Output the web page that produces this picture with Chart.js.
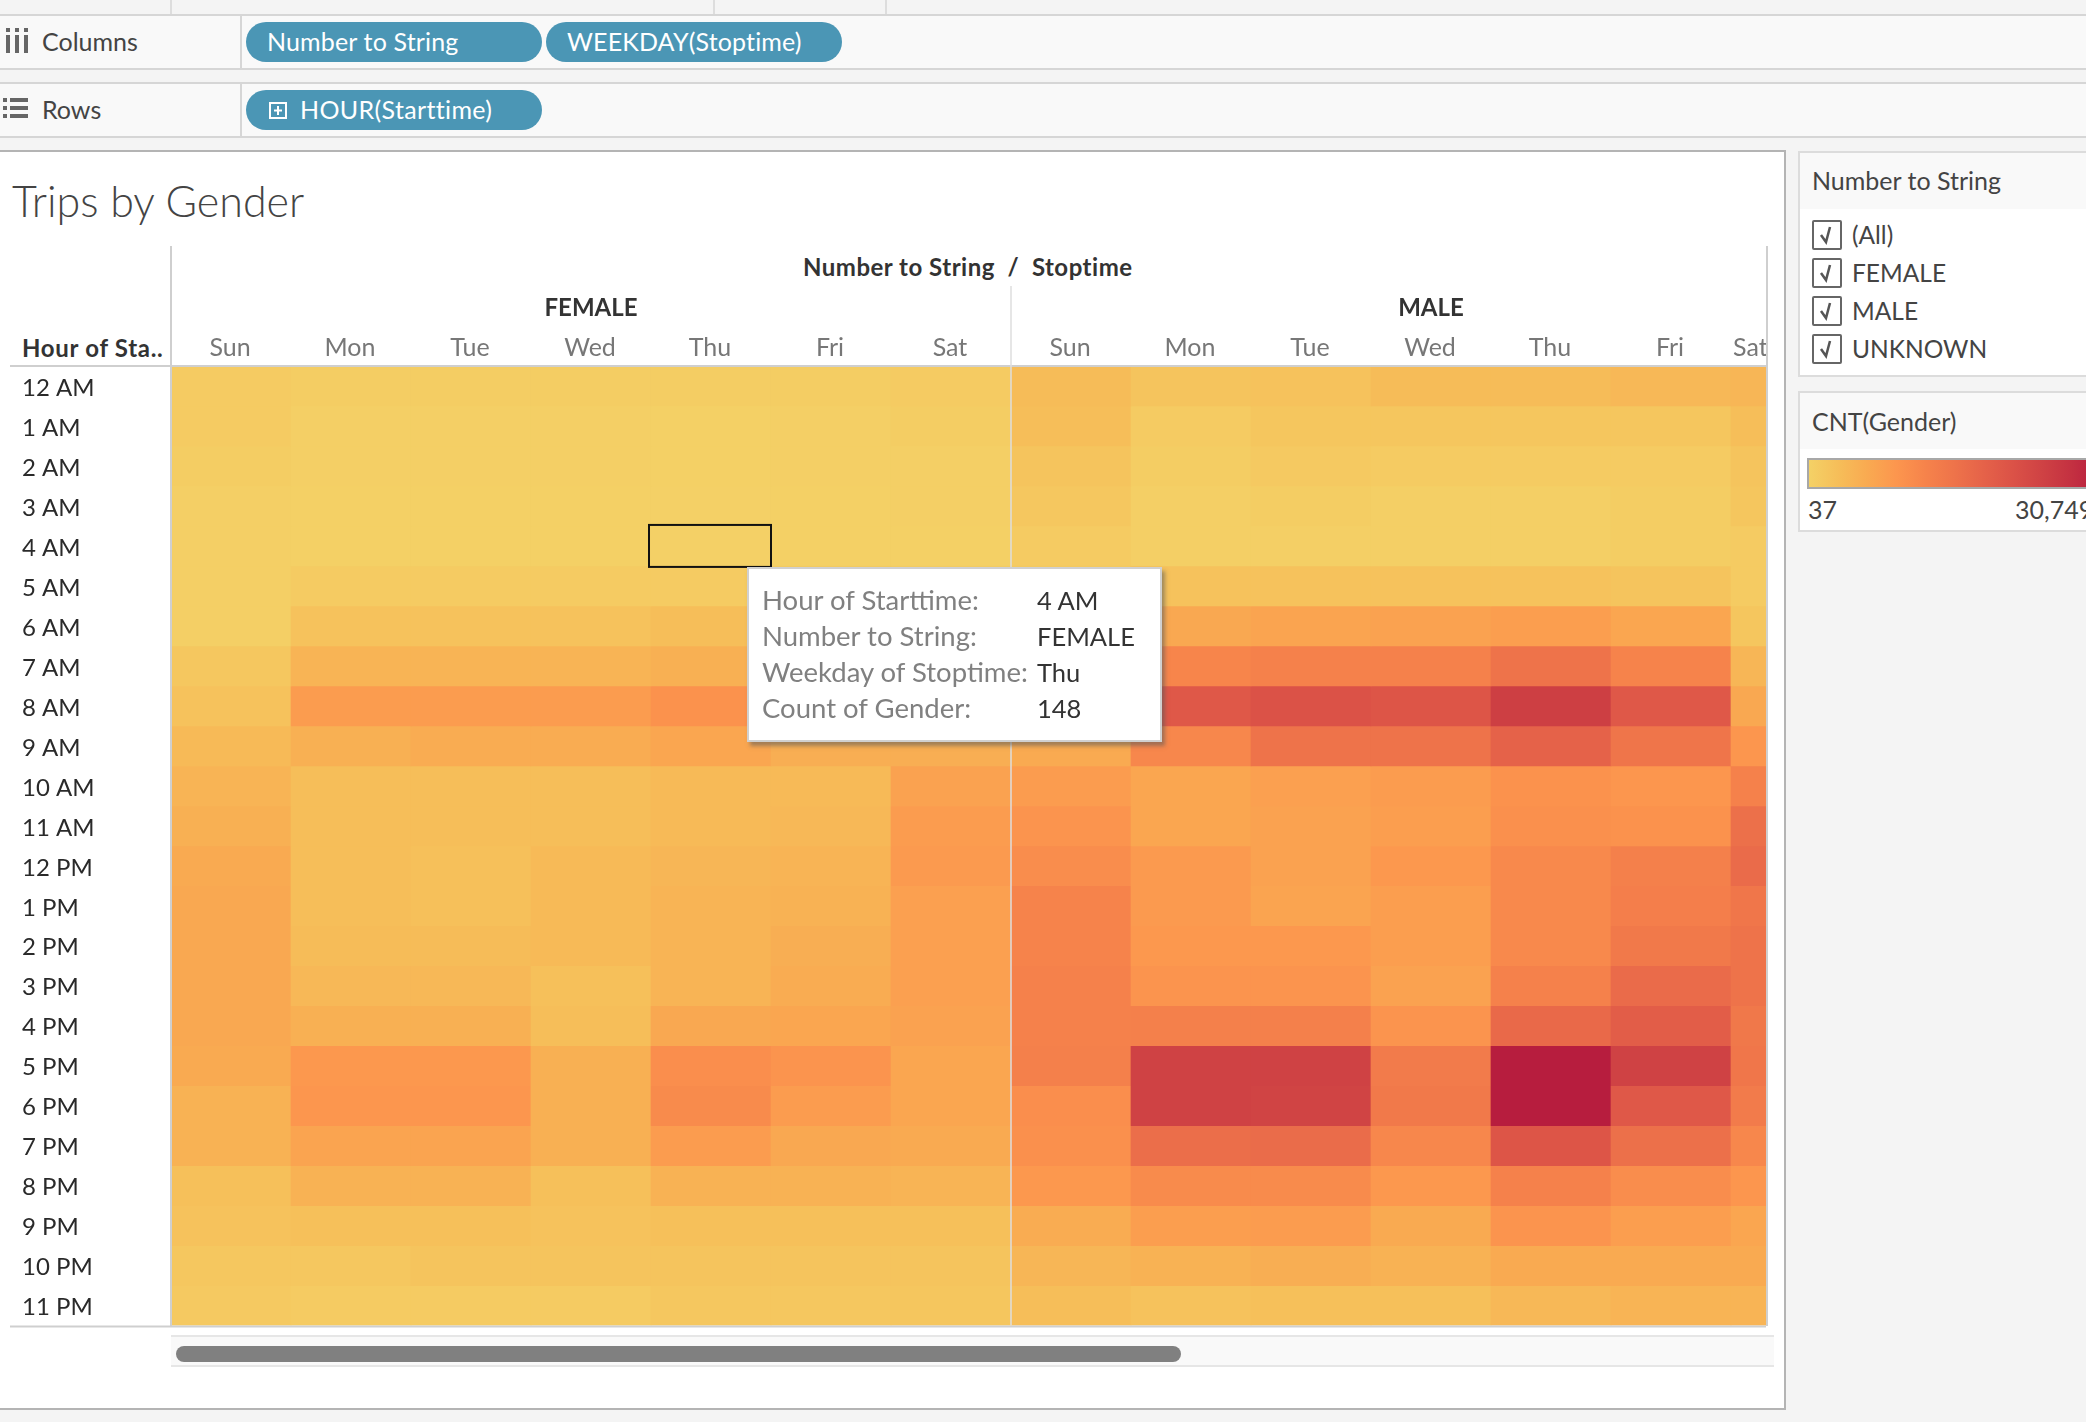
<!DOCTYPE html>
<html>
<head>
<meta charset="utf-8">
<title>Trips by Gender</title>
<script src="https://cdn.jsdelivr.net/npm/chart.js@4"></script>
<style>
html, body { margin: 0; padding: 0; background: #f4f4f4; }
body { width: 2086px; height: 1422px; position: relative; overflow: hidden; font-family: Lato, sans-serif; color: #444; }
.box { position: absolute; box-sizing: border-box; }
.txt { position: absolute; white-space: nowrap; line-height: 40px; height: 40px; }
.pill { position: absolute; height: 40px; width: 296px; background: #4b96b5; border-radius: 20px; color: #fff; font-size: 25px; letter-spacing: .15px; line-height: 38px; box-sizing: border-box; padding-left: 21px; }
.check { position: absolute; left: 1812px; width: 30px; height: 30px; box-sizing: border-box; border: 2px solid #666; border-radius: 2px; background: #fff; }
.check svg { display: block; }
.shelf { position: absolute; left: 0; width: 2086px; background: #f9f9f9; border-top: 2px solid #d6d6d6; border-bottom: 2px solid #d6d6d6; box-sizing: border-box; }
</style>
</head>
<body>
<!-- toolbar shelves -->
<div class="box" style="left:170px;top:0;width:2px;height:14px;background:#ddd"></div>
<div class="box" style="left:713px;top:0;width:2px;height:14px;background:#ddd"></div>
<div class="box" style="left:885px;top:0;width:2px;height:14px;background:#ddd"></div>
<div class="shelf" style="top:14px;height:56px"></div>
<div class="shelf" style="top:82px;height:56px"></div>
<div class="box" style="left:240px;top:15px;width:2px;height:54px;background:#d6d6d6"></div>
<div class="box" style="left:240px;top:83px;width:2px;height:54px;background:#d6d6d6"></div>
<svg class="box" style="left:5px;top:28px" width="24" height="26" fill="#666"><rect x="1" y="0" width="4" height="4"/><rect x="10" y="0" width="4" height="4"/><rect x="19" y="0" width="4" height="4"/><rect x="1" y="7" width="4" height="18"/><rect x="10" y="7" width="4" height="18"/><rect x="19" y="7" width="4" height="18"/></svg>
<svg class="box" style="left:3px;top:98px" width="26" height="20" fill="#666"><rect x="0" y="0" width="4" height="4"/><rect x="7" y="0" width="18" height="4"/><rect x="0" y="8" width="4" height="4"/><rect x="7" y="8" width="18" height="4"/><rect x="0" y="16" width="4" height="4"/><rect x="7" y="16" width="18" height="4"/></svg>
<div class="txt" style="left:42px;top:21px;font-size:25px">Columns</div>
<div class="txt" style="left:42px;top:89px;font-size:25px">Rows</div>
<div class="pill" style="left:246px;top:22px">Number to String</div>
<div class="pill" style="left:546px;top:22px">WEEKDAY(Stoptime)</div>
<div class="pill" style="left:246px;top:90px;padding-left:54px;letter-spacing:.35px">HOUR(Starttime)</div>
<svg class="box" style="left:269px;top:102px" width="19" height="17" fill="none" stroke="#fff" stroke-width="2"><rect x="1" y="1" width="16" height="15"/><path d="M9 4v9M5 8.500h8"/></svg>

<!-- main panel -->
<div class="box" style="left:-2px;top:150px;width:1788px;height:1260px;background:#fff;border:2px solid #b4b4b4"></div>
<div class="txt" id="chartTitle" style="left:12px;top:181px;font-size:43px;color:#444;font-weight:300">Trips by Gender</div>
<div class="txt" style="left:803px;top:247px;font-size:24px;font-weight:700;letter-spacing:.5px;color:#333">Number to String&nbsp; /&nbsp; Stoptime</div>
<div class="txt" style="left:22px;top:328px;font-size:24px;font-weight:700;letter-spacing:.7px;color:#333">Hour of Sta..</div>
<div class="box" style="left:1766px;top:246px;width:2px;height:1080px;background:#cfcfcf"></div>

<div class="box" id="plotClip" style="left:0;top:0;width:1766px;height:1340px;overflow:hidden">
  <canvas id="heatmap" width="1851" height="1340"></canvas>
</div>

<!-- scrollbar -->
<div class="box" style="left:171px;top:1335px;width:1603px;height:32px;background:#f9f9f9;border-top:2px solid #e6e6e6;border-bottom:2px solid #e6e6e6"></div>
<div class="box" style="left:176px;top:1346px;width:1005px;height:16px;background:#808080;border-radius:8px"></div>

<!-- tooltip -->
<div class="box" id="tip" style="left:747px;top:567px;width:415px;height:175px;background:#fff;border:2px solid #d0d0d0;box-shadow:3px 4px 4px rgba(90,90,90,.55)"></div>
<div id="tipRows"></div>

<!-- filter card -->
<div class="box" style="left:1798px;top:151px;width:300px;height:226px;background:#fff;border:2px solid #dcdcdc"></div>
<div class="box" style="left:1800px;top:153px;width:286px;height:56px;background:#f9f9f9"></div>
<div class="txt" style="left:1812px;top:160px;font-size:25px">Number to String</div>
<div id="filterRows"></div>

<!-- colour legend -->
<div class="box" style="left:1798px;top:391px;width:300px;height:141px;background:#fff;border:2px solid #dcdcdc"></div>
<div class="box" style="left:1800px;top:393px;width:286px;height:56px;background:#f9f9f9"></div>
<div class="txt" style="left:1812px;top:401px;font-size:25px">CNT(Gender)</div>
<div class="box" id="ramp" style="left:1807px;top:458px;width:295px;height:31px;border:2px solid #a8a8a8"></div>
<div class="txt" id="legendMin" style="left:1808px;top:489px;font-size:25px"></div>
<div class="txt" id="legendMax" style="left:2015px;top:489px;font-size:25px"></div>

<script>
const hours = ['12 AM','1 AM','2 AM','3 AM','4 AM','5 AM','6 AM','7 AM','8 AM','9 AM','10 AM','11 AM',
  '12 PM','1 PM','2 PM','3 PM','4 PM','5 PM','6 PM','7 PM','8 PM','9 PM','10 PM','11 PM'];
const days = ['Sun','Mon','Tue','Wed','Thu','Fri','Sat'];
const genders = ['FEMALE','MALE'];
const filterItems = ['(All)','FEMALE','MALE','UNKNOWN'];
const minCount = 37;
const maxCount = 30749;

// counts, one row per hour (Sun..Sat)
const femaleCounts = [
  [958,651,651,651,651,651,958],
  [958,344,344,344,200,344,651],
  [651,344,344,344,200,344,344],
  [344,180,180,180,150,180,344],
  [344,200,200,200,148,200,200],
  [344,958,958,958,958,958,651],
  [344,2494,2494,2494,3108,2494,1265],
  [1573,4644,4644,4644,5258,4644,1573],
  [2494,8329,8329,8329,9865,8636,2801],
  [3722,5258,5872,5872,6794,5565,5565],
  [4644,3108,3108,3108,3722,3722,7408],
  [5258,3108,3108,3108,3722,4030,8329],
  [6179,3108,2801,3722,4337,4644,8636],
  [6487,3108,2801,3722,4644,4951,7715],
  [6487,3415,3415,3722,4644,5565,7715],
  [6487,4030,4030,2801,4644,5872,7715],
  [6487,5258,5258,3108,6487,6794,7408],
  [6179,8943,8943,5258,10479,9558,6794],
  [4951,9250,9250,5258,11093,8329,6794],
  [4951,7101,7101,5258,8329,6487,6179],
  [2801,4951,4951,2801,4951,4951,4644],
  [2494,2801,2801,2494,2801,2801,2801],
  [1573,1573,2187,2187,2187,2187,2187],
  [1265,958,958,958,1573,1573,1880]
];
const maleCounts = [
  [3415,2187,2494,3415,3415,4030,4337],
  [3108,958,1880,1880,1880,1880,3108],
  [2187,651,1265,958,958,958,2187],
  [1573,344,651,344,344,651,1880],
  [958,344,344,344,344,651,958],
  [958,2494,2494,2494,2494,2187,958],
  [958,6487,7101,7408,8022,6794,1880],
  [2187,12015,12629,12629,15393,12322,4337],
  [3108,20307,21535,20921,25221,20307,6487],
  [6179,11707,15393,15393,18464,15086,9250],
  [8329,6794,7715,8329,9865,9250,12629],
  [9558,6794,7408,8022,10172,9865,16007],
  [10786,8636,7408,8943,11400,12936,16928],
  [12322,8636,7101,8022,11400,13243,14779],
  [12322,8943,8943,8022,11400,14164,15393],
  [12629,9558,9558,7408,12629,16928,15393],
  [12629,12936,12936,9558,17236,19385,14471],
  [12936,24607,24607,13857,30749,24607,14779],
  [10479,24607,24299,14164,30749,20307,13857],
  [10172,16314,16621,11707,20921,16007,11707],
  [8943,11093,11093,8943,12629,10786,9250],
  [5872,8022,8329,6179,9558,8022,6794],
  [4337,4951,5565,4951,6179,6179,6179],
  [3108,2494,2801,2801,4030,4644,4644]
];
const goldRed = ['#f4d166','#f6be59','#f9aa51','#fc964e','#f6834b','#ee734a','#e56249','#db5247','#cf4244','#c43141','#b71d3e'];

// tooltip of the hovered cell in the screenshot
const tipKeys = ['Hour of Starttime:','Number to String:','Weekday of Stoptime:','Count of Gender:'];
const tipValues = ['4 AM','FEMALE','Thu','148'];

function hexToRgb(hex) {
  return [1, 3, 5].map(i => parseInt(hex.slice(i, i + 2), 16));
}

function countColor(count) {
  const t = (count - minCount) / (maxCount - minCount) * (goldRed.length - 1);
  const lo = Math.min(Math.floor(t), goldRed.length - 2);
  const a = hexToRgb(goldRed[lo]), b = hexToRgb(goldRed[lo + 1]);
  const c = a.map((v, i) => Math.round(v + (b[i] - v) * (t - lo)));
  return `rgb(${c[0]},${c[1]},${c[2]})`;
}

const columns = days.concat(days);
const datasets = hours.map((hour, h) => {
  const counts = femaleCounts[h].concat(maleCounts[h]);
  return {
    label: hour,
    data: counts.map(() => [h, h + 1]),
    backgroundColor: counts.map(countColor),
    barPercentage: 1,
    categoryPercentage: 1,
    grouped: false
  };
});

const frame = {
  id: 'frame',
  afterDatasetsDraw(chart) {
    const { ctx, chartArea, scales } = chart;
    ctx.save();
    ctx.strokeStyle = '#cfcfcf';
    ctx.lineWidth = 2;
    ctx.beginPath();
    ctx.moveTo(10, chartArea.top);
    ctx.lineTo(chartArea.right, chartArea.top);
    ctx.moveTo(10, chartArea.bottom + 1);
    ctx.lineTo(chartArea.right, chartArea.bottom + 1);
    ctx.moveTo(chartArea.left, 246);
    ctx.lineTo(chartArea.left, chartArea.bottom);
    ctx.stroke();
    // FEMALE / MALE divider
    const split = scales.x.getPixelForValue(6.5);
    ctx.lineWidth = 1.5;
    ctx.strokeStyle = '#dedede';
    ctx.beginPath();
    ctx.moveTo(split, 286);
    ctx.lineTo(split, chartArea.bottom);
    ctx.stroke();
    // hovered cell
    ctx.strokeStyle = '#111';
    ctx.lineWidth = 2;
    const x0 = scales.x.getPixelForValue(3.5), x1 = scales.x.getPixelForValue(4.5);
    const y0 = scales.y.getPixelForValue(4), y1 = scales.y.getPixelForValue(5);
    ctx.strokeRect(x0 - 2, y0 - 1, x1 - x0 + 2, y1 - y0 + 2);
    // last Sat column is cut off by the view, its label sits at the visible part
    ctx.fillStyle = '#777';
    ctx.font = '25px Lato';
    ctx.textAlign = 'left';
    ctx.textBaseline = 'middle';
    ctx.fillText(columns[13], 1733, 348);
    ctx.restore();
  }
};

new Chart(document.getElementById('heatmap').getContext('2d'), {
  type: 'bar',
  data: { labels: columns, datasets },
  plugins: [frame],
  options: {
    responsive: false,
    animation: false,
    devicePixelRatio: 1,
    layout: { autoPadding: false, padding: { left: 22, top: 286, bottom: 6, right: 0 } },
    plugins: { legend: { display: false }, tooltip: { enabled: false }, title: { display: false } },
    scales: {
      x: {
        position: 'top',
        afterFit(scale) { scale.height = 40; },
        grid: { display: false, drawTicks: false },
        border: { display: false },
        ticks: {
          color: '#777',
          font: { family: 'Lato', size: 25 },
          padding: 3,
          labelOffset: -1,
          maxRotation: 0,
          autoSkip: false,
          callback(value, index) { return index === 13 ? '' : columns[index]; }
        }
      },
      genderAxis: {
        axis: 'x',
        type: 'category',
        position: 'top',
        weight: 1,
        labels: genders,
        offset: true,
        afterFit(scale) { scale.height = 40; },
        grid: { display: false, drawTicks: false },
        border: { display: false },
        ticks: { color: '#333', font: { family: 'Lato', size: 24, weight: '700' }, padding: 3, maxRotation: 0 }
      },
      y: { display: false, reverse: true, min: 0, max: 24 },
      hourAxis: {
        axis: 'y',
        type: 'category',
        position: 'left',
        labels: hours,
        offset: true,
        afterFit(scale) { scale.width = 149; },
        grid: { display: false, drawTicks: false },
        border: { display: false },
        ticks: { color: '#2a2a2a', font: { family: 'Lato', size: 24 }, crossAlign: 'far', autoSkip: false, padding: 0, labelOffset: 2 }
      }
    }
  }
});

// surrounding page text
const addText = (parent, left, top, size, color, text) => {
  const el = document.createElement('div');
  el.className = 'txt';
  el.style.cssText = `left:${left}px;top:${top}px;font-size:${size}px;color:${color}`;
  el.textContent = text;
  parent.appendChild(el);
  return el;
};

const tipRows = document.getElementById('tipRows');
tipKeys.forEach((key, i) => {
  addText(tipRows, 762, 580 + i * 36, 27.5, '#808080', key);
  addText(tipRows, 1037, 580 + i * 36, 25.5, '#333', tipValues[i]);
});

const filterRows = document.getElementById('filterRows');
filterItems.forEach((item, i) => {
  const top = 220 + i * 38;
  const box = document.createElement('div');
  box.className = 'check';
  box.style.top = top + 'px';
  box.innerHTML = '<svg width="26" height="26" fill="none" stroke="#555" stroke-width="2.5"><path d="M7 13l5 7 4-15"/></svg>';
  filterRows.appendChild(box);
  addText(filterRows, 1852, top - 5, 24.5, '#444', item);
});

document.getElementById('ramp').style.background = `linear-gradient(to right, ${goldRed.join(',')})`;
document.getElementById('legendMin').textContent = minCount;
document.getElementById('legendMax').textContent = maxCount.toLocaleString('en-US');
</script>
</body>
</html>
